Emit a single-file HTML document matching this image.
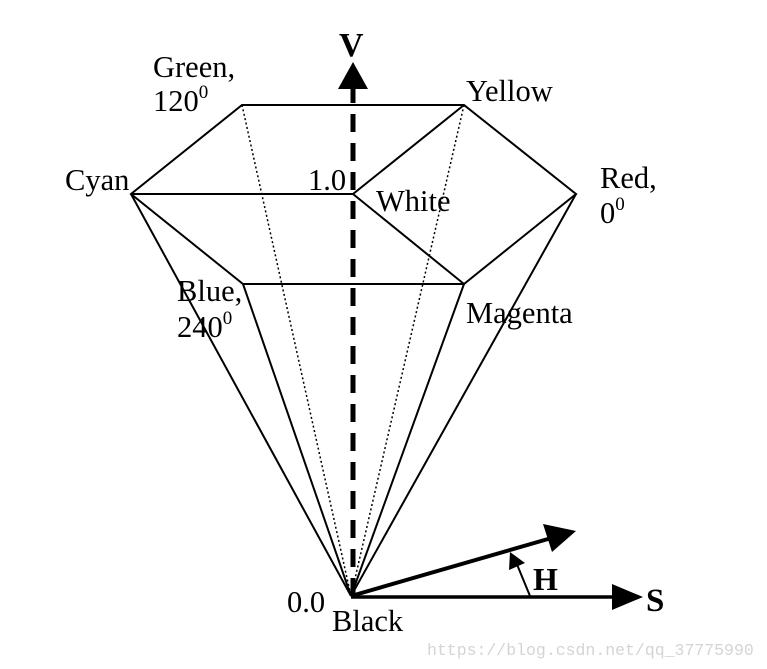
<!DOCTYPE html>
<html><head><style>html,body{margin:0;padding:0;background:#fff;}svg{display:block}</style></head>
<body>
<svg width="767" height="669" viewBox="0 0 767 669" xmlns="http://www.w3.org/2000/svg">
<g stroke="#000" stroke-width="2" fill="none" stroke-linejoin="miter">
<polygon points="242,105 464,105 576,194 464,284 243,284 131,194"/>
<line x1="131" y1="194" x2="353" y2="194"/>
<polyline points="464,105 353,194 464,284"/>
<line x1="131" y1="194" x2="351" y2="596"/>
<line x1="243" y1="284" x2="351" y2="596"/>
<line x1="464" y1="284" x2="351" y2="596"/>
<line x1="576" y1="194" x2="351" y2="596"/>
</g>
<g stroke="#000" stroke-width="1.5" stroke-dasharray="2,2.5" fill="none">
<line x1="242" y1="105" x2="351" y2="596"/>
<line x1="464" y1="105" x2="351" y2="596"/>
</g>
<line x1="353" y1="596" x2="353" y2="88" stroke="#000" stroke-width="5" stroke-dasharray="18,11"/>
<polygon points="353,62 338,89 368,89" fill="#000"/>
<line x1="351" y1="597" x2="614" y2="597" stroke="#000" stroke-width="3.5"/>
<polygon points="643,597 612,584 612,610" fill="#000"/>
<line x1="351" y1="596" x2="555" y2="537" stroke="#000" stroke-width="4"/>
<polygon points="576,531 543,524 552,552" fill="#000"/>
<line x1="530" y1="596" x2="516" y2="562" stroke="#000" stroke-width="2"/>
<polygon points="510,552 509,570 525,563" fill="#000"/>
<g font-family="Liberation Serif, serif" font-size="30.5" fill="#000">
<text x="153" y="77">Green,</text>
<text x="153" y="111">120<tspan font-size="19" dy="-13">0</tspan></text>
<text x="466" y="101">Yellow</text>
<text x="65" y="190">Cyan</text>
<text x="308" y="190">1.0</text>
<text x="376" y="211">White</text>
<text x="600" y="188">Red,</text>
<text x="600" y="223">0<tspan font-size="19" dy="-13">0</tspan></text>
<text x="177" y="301">Blue,</text>
<text x="177" y="337">240<tspan font-size="19" dy="-13">0</tspan></text>
<text x="466" y="323">Magenta</text>
<text x="287" y="612">0.0</text>
<text x="332" y="631">Black</text>
<text x="339" y="56" font-weight="bold" font-size="34">V</text>
<text x="533" y="590" font-weight="bold" font-size="32">H</text>
<text x="646" y="611" font-weight="bold" font-size="33">S</text>
</g>
<text x="427" y="655" font-family="Liberation Mono, monospace" font-size="16.5" fill="#d4d4d4">https://blog.csdn.net/qq_37775990</text>
</svg>
</body></html>
